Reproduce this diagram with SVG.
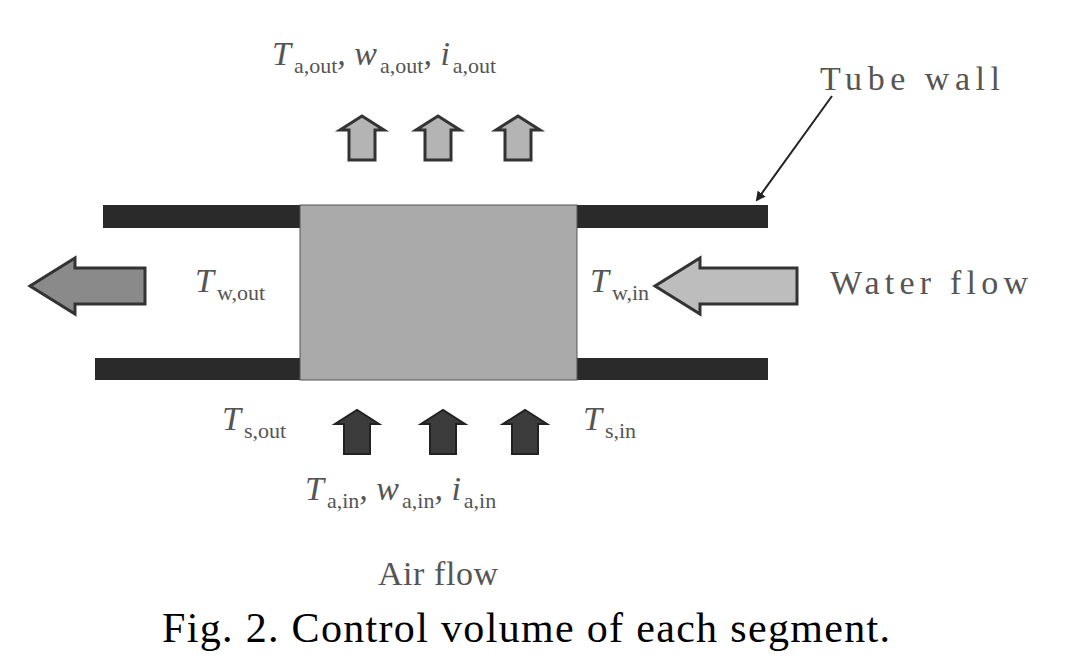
<svg xmlns="http://www.w3.org/2000/svg" width="1072" height="660" viewBox="0 0 1072 660">
<style>
text{font-family:"Liberation Serif","DejaVu Serif",serif;fill:#555}
.lbl{font-size:34px;font-style:italic}
.sub{font-size:22px;font-style:normal}
.plain{font-size:34px}
.bar{fill:#2a2a2a}
.up1{fill:#b4b4b4;stroke:#333;stroke-width:3}
.up2{fill:#3c3c3c;stroke:#222;stroke-width:2}
</style>
<defs>
<marker id="ah" markerWidth="10" markerHeight="10" refX="8" refY="5" orient="auto" markerUnits="userSpaceOnUse"><path d="M0,0 L10,5 L0,10 z" fill="#222"/></marker>
<path id="upArrow" d="M-13,42 L-13,12 L-22,12 L0,-2 L22,12 L13,12 L13,42 z"/>
</defs>
<rect width="1072" height="660" fill="#fff"/>
<g id="tube-top"><rect class="bar" x="103" y="205" width="665" height="23"/></g>
<g id="tube-bottom"><rect class="bar" x="95" y="358" width="673" height="22"/></g>
<g id="control-volume"><rect x="300" y="205" width="277" height="175" fill="#aaaaaa" stroke="#555" stroke-width="1"/></g>
<g id="air-out-arrows">
<use href="#upArrow" class="up1" x="362" y="118"/>
<use href="#upArrow" class="up1" x="438" y="118"/>
<use href="#upArrow" class="up1" x="518" y="118"/>
</g>
<g id="air-in-arrows">
<use href="#upArrow" class="up2" x="357" y="412"/>
<use href="#upArrow" class="up2" x="443" y="412"/>
<use href="#upArrow" class="up2" x="525" y="412"/>
</g>
<g id="water-out-arrow"><path d="M145,268 L75,268 L75,258 L30,286 L75,314 L75,304 L145,304 z" fill="#8a8a8a" stroke="#333" stroke-width="3"/></g>
<g id="water-in-arrow"><path d="M797,268 L700,268 L700,258 L655,286 L700,314 L700,304 L797,304 z" fill="#bdbdbd" stroke="#333" stroke-width="3"/></g>
<g id="connectors"><line x1="832" y1="96" x2="757" y2="200" stroke="#222" stroke-width="2" marker-end="url(#ah)"/></g>
<g id="labels">
<text x="272" y="65" class="lbl">T<tspan class="sub" dx="3" dy="8">a,out</tspan><tspan dy="-8">,  w</tspan><tspan class="sub" dx="3" dy="8">a,out</tspan><tspan dy="-8">,  i</tspan><tspan class="sub" dx="3" dy="8">a,out</tspan></text>
<text x="820" y="90" class="plain" textLength="180" lengthAdjust="spacing">Tube wall</text>
<text x="195" y="292" class="lbl">T<tspan class="sub" dx="3" dy="8">w,out</tspan></text>
<text x="590" y="292" class="lbl">T<tspan class="sub" dx="3" dy="8">w,in</tspan></text>
<text x="830" y="294" class="plain" textLength="198" lengthAdjust="spacing">Water flow</text>
<text x="222" y="430" class="lbl">T<tspan class="sub" dx="3" dy="8">s,out</tspan></text>
<text x="583" y="430" class="lbl">T<tspan class="sub" dx="3" dy="8">s,in</tspan></text>
<text x="305" y="500" class="lbl">T<tspan class="sub" dx="3" dy="8">a,in</tspan><tspan dy="-8">,  w</tspan><tspan class="sub" dx="3" dy="8">a,in</tspan><tspan dy="-8">,  i</tspan><tspan class="sub" dx="3" dy="8">a,in</tspan></text>
<text x="378" y="585" class="plain" textLength="120" lengthAdjust="spacing">Air flow</text>
</g>
<text x="162" y="642" font-size="42" textLength="728" lengthAdjust="spacing" style="fill:#000">Fig. 2. Control volume of each segment.</text>
</svg>
